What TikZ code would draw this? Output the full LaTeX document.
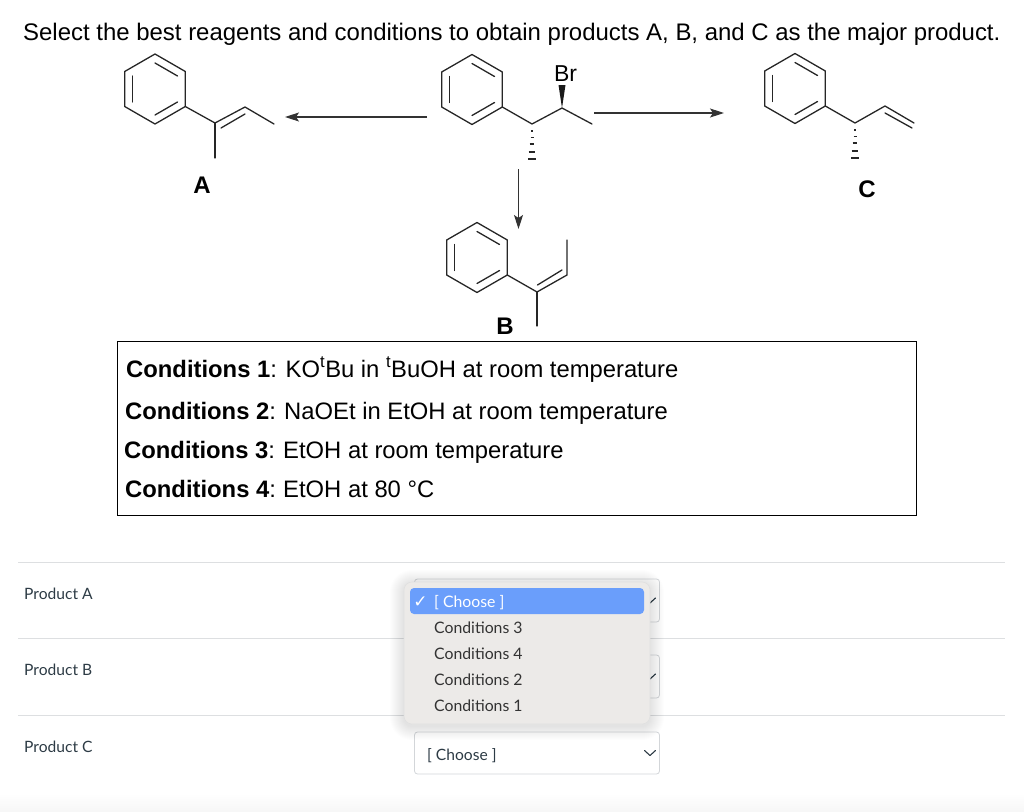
\documentclass[tikz,border=0pt]{standalone}
\usepackage{fontspec}
\setmainfont{Liberation Sans}
\newfontfamily\latofont{Lato}
\newfontfamily\checkfont{DejaVu Sans}
\usetikzlibrary{arrows.meta, calc}

\definecolor{canvastext}{HTML}{2D3B45}
\definecolor{rowline}{HTML}{DDDFE1}
\definecolor{selectline}{HTML}{D3D6D9}
\definecolor{popupfill}{HTML}{ECEAE8}
\definecolor{popupblue}{HTML}{6A9EFB}
\definecolor{pagefoot}{HTML}{F7F7F7}

\tikzset{
	bond/.style = {line width=1.3pt, black!85, line cap=round, line join=round},
	rxnarrow/.style = {-{Stealth[length=14pt, width=9pt, inset=3pt]}, line width=1.1pt, black!80},
	title/.style = {anchor=base west, inner sep=0pt, font=\fontsize{23.95}{28}\selectfont},
	cond/.style = {anchor=base west, inner sep=0pt, font=\fontsize{23.8}{28}\selectfont},
	letter/.style = {inner sep=0pt, font=\fontsize{24}{28}\selectfont\bfseries},
	rowtext/.style = {anchor=base west, inner sep=0pt, text=canvastext, font=\latofont\fontsize{15.6}{18}\selectfont},
	menutext/.style = {anchor=base west, inner sep=0pt, text=black!80, font=\latofont\fontsize{15.8}{18}\selectfont},
	selectbox/.style = {draw=selectline, fill=white, line width=0.8pt, rounded corners=3pt},
	chevron/.style = {line width=1.1pt, canvastext, line cap=round, line join=round}
}

% benzene ring, #1 names the corner that carries the chain
\newcommand{\phring}[3]{
	\coordinate (#1) at ($(#2,#3)+(30:35)$);
	\draw[bond] (#2,#3) +(30:35) -- +(90:35) -- +(150:35) -- +(210:35) -- +(270:35) -- +(330:35) -- cycle;
	\foreach \a/\b in {90/30, 150/210, 270/330}
		\draw[bond] (#2,#3) +(\a:26) -- +(\b:26);
}
% hashed bond going down from a named atom
\newcommand{\hashdown}[1]{
	\foreach \d/\w in {7/0.7, 13.5/1.5, 20/2.4, 28/3.3, 35/4}
		\draw[line width=1.2pt, black!85] ($(#1)+(-\w,\d)$) -- ($(#1)+(\w,\d)$);
}

\begin{document}
\begin{tikzpicture}[x=1pt, y=-1pt]
\useasboundingbox (0,0) rectangle (1024,811);

% faint shade along the foot of the page
\shade[top color=white, bottom color=pagefoot, draw=none] (0,793) rectangle (1024,811);

\node[title] (question) at (23,40) {Select the best reagents and conditions to obtain products A, B, and C as the major product.};

% product A
\phring{ringA}{155}{89}
\coordinate (A1) at (215,123);
\coordinate (A2) at (245,107);
\coordinate (A3) at (274,124);
\coordinate (A4) at (215,158);
\draw[bond] (ringA) -- (A1) -- (A2) -- (A3);
\draw[bond] (A1) -- (A4);
\draw[bond] (221,128) -- (245,114);
\node[letter] (labelA) at (202,185) {A};

% starting material
\phring{ringS}{472}{89.5}
\coordinate (S1) at (532,124);
\coordinate (S2) at (562,108);
\coordinate (S3) at (592,124);
\draw[bond] (ringS) -- (S1) -- (S2) -- (S3);
\hashdown{S1}
\fill[black!90] (S2) -- (558.5,85) -- (565.5,85) -- cycle;
\node[inner sep=0pt, font=\fontsize{23}{26}\selectfont] (bromine) at (565.5,74) {Br};

% product B
\phring{ringB}{477}{257.5}
\coordinate (B1) at (537,292);
\coordinate (B2) at (567,275);
\coordinate (B3) at (567,240);
\coordinate (B4) at (537,326);
\draw[bond] (ringB) -- (B1) -- (B2) -- (B3);
\draw[bond] (B1) -- (B4);
\draw[bond] (537.5,285) -- (562,270);
\node[letter] (labelB) at (505,326) {B};

% product C
\phring{ringC}{795}{88.5}
\coordinate (C1) at (855,123);
\coordinate (C2) at (885,106);
\coordinate (C3) at (914,123);
\draw[bond] (ringC) -- (C1) -- (C2) -- (C3);
\draw[bond] (885,113) -- (912,128);
\hashdown{C1}
\node[letter] (labelC) at (867,189) {C};

% reaction arrows
\coordinate (toAstart) at (427,117);
\coordinate (toAend) at (285,117);
\coordinate (toBstart) at (518.5,169);
\coordinate (toBend) at (518.5,229);
\coordinate (toCstart) at (594,113);
\coordinate (toCend) at (724,113);
\draw[rxnarrow] (toAstart) -- (toAend);
\draw[rxnarrow] (toBstart) -- (toBend);
\draw[rxnarrow] (toCstart) -- (toCend);

% conditions box
\node[draw, line width=1pt, minimum width=799pt, minimum height=174pt, inner sep=0pt] (condbox) at (516.5,428) {};
\node[cond] (cond1) at (126,377) {\textbf{Conditions 1}: KO\textsuperscript{t}Bu in \textsuperscript{t}BuOH at room temperature};
\node[cond] (cond2) at (125,419) {\textbf{Conditions 2}:\kern-0.5pt{} NaOEt in EtOH at room temperature};
\node[cond] (cond3) at (124,458) {\textbf{Conditions 3}:\kern-0.5pt{} EtOH at room temperature};
\node[cond] (cond4) at (125,497) {\textbf{Conditions 4}:\kern-1.5pt{} EtOH at 80 °C};

% answer rows
\foreach \y/\n in {562/1, 638/2, 715/3} {
	\coordinate (rowL\n) at (18,\y);
	\coordinate (rowR\n) at (1005,\y);
	\draw[rowline, line width=0.9pt] (rowL\n) -- (rowR\n);
}
\node[rowtext] (prodA) at (24,599) {Product A};
\node[rowtext] (prodB) at (24,675) {Product B};
\node[rowtext] (prodC) at (24,752) {Product C};

\foreach \y/\h in {579/622, 655/698, 732/774} {
	\draw[selectbox] (414.5,\y) rectangle (659.5,\h);
	\draw[chevron] (644.5,{(\y+\h)/2-2.5}) -- (650,{(\y+\h)/2+2.5}) -- (655.5,{(\y+\h)/2-2.5});
}
\node[rowtext] (choose) at (427,760) {[ Choose ]};

% open menu, its soft shadow first
\foreach \g in {14,13,...,1}
	\fill[black, opacity=0.007, rounded corners={8+\g}] ({404-\g},{584-\g}) rectangle ({650+\g},{726+\g});
\node[fill=popupfill, draw=black!12, line width=0.6pt, rounded corners=8pt, minimum width=246pt, minimum height=142pt, inner sep=0pt] (popup) at (527,653) {};
\node[fill=popupblue, rounded corners=4pt, minimum width=234pt, minimum height=26pt, inner sep=0pt] (picked) at (527,601) {};
\node[inner sep=0pt, text=white, font=\checkfont\fontsize{17}{18}\selectfont] (tick) at (420.5,602) {✓};
\node[menutext, text=white] (item0) at (434,607) {[ Choose ]};
\node[menutext] (item1) at (434,633) {Conditions 3};
\node[menutext] (item2) at (434,659) {Conditions 4};
\node[menutext] (item3) at (434,685) {Conditions 2};
\node[menutext] (item4) at (434,711) {Conditions 1};

\end{tikzpicture}
\end{document}
